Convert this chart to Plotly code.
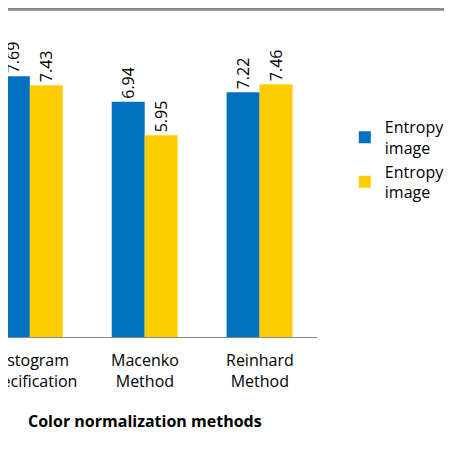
import plotly.graph_objects as go

categories = ["Histogram<br>Specification", "Macenko<br>Method", "Reinhard<br>Method"]
original = [7.69, 6.94, 7.22]
normalized = [7.43, 5.95, 7.46]
series_names = ["Entropy of original<br>image", "Entropy of normalized<br>image"]

FONT = "Open Sans"
idx = [0, 1, 2]

fig = go.Figure()
for vals, name, color in [(original, series_names[0], "#0070C0"),
                          (normalized, series_names[1], "#FFCC00")]:
    fig.add_trace(go.Bar(
        x=idx, y=vals, name=name, marker=dict(color=color, line=dict(width=0)),
        text=[f"{v:.2f}" for v in vals], textposition="outside", textangle=-90,
        constraintext="none",
        textfont=dict(size=16, color="black", family=FONT), cliponaxis=False,
    ))

# category labels as annotations so the cut-off first one still shows
for i, lab in zip(idx, categories):
    fig.add_annotation(x=i, y=-0.03, xref="x", yref="paper", yanchor="top",
                       text=lab, showarrow=False,
                       font=dict(size=16, color="black", family=FONT))

fig.add_annotation(x=1, y=-0.26, xref="x", yref="paper", yanchor="middle",
                   text="<b>Color normalization methods</b>", showarrow=False,
                   font=dict(size=16, color="black", family=FONT))

fig.add_shape(type="rect", xref="paper", yref="paper", x0=-0.1, x1=1.455,
              y0=-0.375, y1=1.018, line=dict(color="#888888", width=3))

fig.update_layout(
    width=452, height=452,
    margin=dict(l=0, r=143, t=7, b=123, autoexpand=False),
    paper_bgcolor="white", plot_bgcolor="white",
    barmode="group", bargap=0.426, bargroupgap=0,
    font=dict(family=FONT, color="black"),
    xaxis=dict(range=[-0.19, 2.5], tickvals=idx, showticklabels=False,
               showline=True, linecolor="#888888",
               ticks="", showgrid=False, zeroline=False),
    yaxis=dict(range=[0, 9.5], visible=False),
    legend=dict(x=1.09, xanchor="left", y=0.55, yanchor="middle",
                font=dict(size=16), tracegroupgap=18),
    showlegend=True,
)
fig.write_html("out.html")
